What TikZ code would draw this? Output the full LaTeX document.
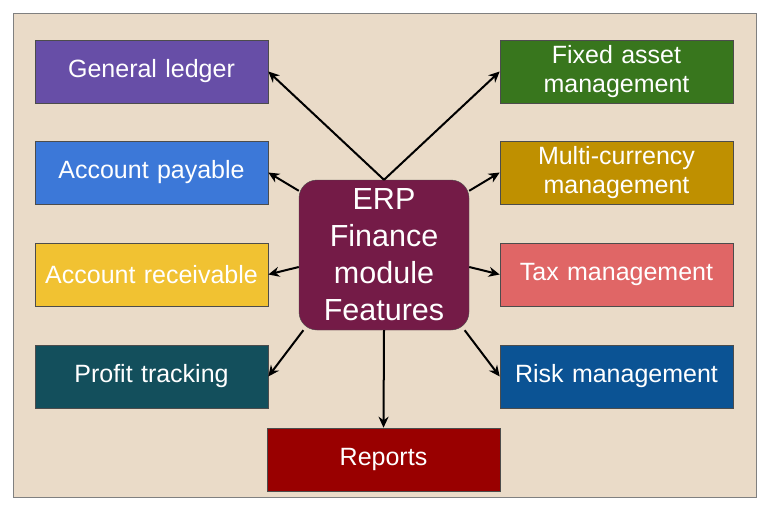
\documentclass[tikz,border=0pt]{standalone}
\usepackage{fontspec}
\setmainfont{Liberation Sans}
\usetikzlibrary{arrows.meta}
\definecolor{bg}{HTML}{EADBC8}
\definecolor{cc}{HTML}{741B47}
\definecolor{c1}{HTML}{674EA7}
\definecolor{c2}{HTML}{3C78D8}
\definecolor{c3}{HTML}{F1C232}
\definecolor{c4}{HTML}{134F5C}
\definecolor{c5}{HTML}{38761D}
\definecolor{c6}{HTML}{BF9000}
\definecolor{c7}{HTML}{E06666}
\definecolor{c8}{HTML}{0B5394}
\definecolor{c9}{HTML}{990000}
\begin{document}
\begin{tikzpicture}[x=1pt,y=-1pt,
  box/.style={draw=black!70,line width=0.6pt,minimum width=233pt,minimum height=63pt,text width=231pt,text=white,font=\fontsize{25}{29}\selectfont,align=center,inner sep=1pt},
  arr/.style={-{Stealth[length=11pt,width=10pt]},line width=2pt}]
\useasboundingbox (0,0) rectangle (768,512);
\draw[fill=bg,draw=black!50] (13,13) rectangle (756,497);
\node[draw=black!70,fill=cc,rounded corners=18pt,minimum width=170pt,minimum height=150pt,text=white,font=\fontsize{30.5}{37}\selectfont,align=center] (c) at (384,255) {ERP\\Finance\\module\\Features};
\node[box,fill=c1] (gl) at (151.5,71.5) {General ledger};
\node[box,fill=c2] (ap) at (151.5,172.5) {Account payable};
\node[box,fill=c3] (ar) at (151.5,274.5) {Account receivable};
\node[box,fill=c4] (pt) at (151.5,376.5) {Profit tracking};
\node[box,fill=c5] (fa) at (616.5,71.5) {Fixed asset\\management};
\node[box,fill=c6] (mc) at (616.5,172.5) {Multi-currency\\management};
\node[box,fill=c7] (tm) at (616.5,274.5) {Tax management};
\node[box,fill=c8] (rm) at (616.5,376.5) {Risk management};
\node[box,fill=c9] (rp) at (383.5,459.5) {Reports};
\draw[arr] (c.north) -- (gl.east);
\draw[arr] (c.north) -- (fa.west);
\draw[arr] (c.143) -- (ap.east);
\draw[arr] (c.188) -- (ar.east);
\draw[arr] (c.223) -- (pt.east);
\draw[arr] (c.37) -- (mc.west);
\draw[arr] (c.352) -- (tm.west);
\draw[arr] (c.317) -- (rm.west);
\draw[arr] (c.south) -- (rp.north);
\end{tikzpicture}
\end{document}
